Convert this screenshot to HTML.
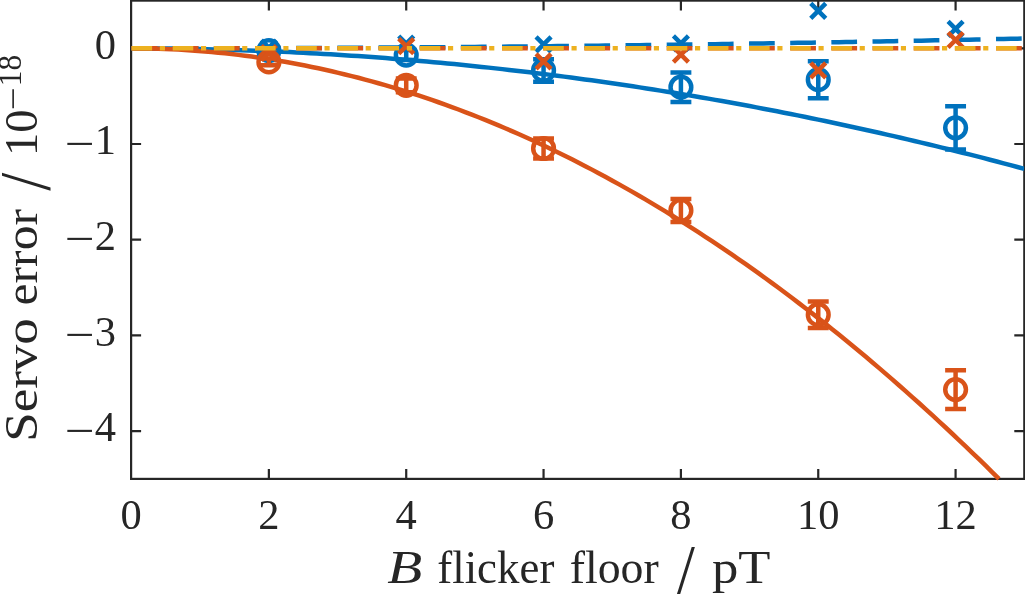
<!DOCTYPE html>
<html lang="en"><head><meta charset="utf-8"><title>Servo error vs B flicker floor</title>
<style>html,body{margin:0;padding:0;background:#fff;overflow:hidden}svg{display:block;font-family:"Liberation Serif",serif;fill:#262626}</style></head><body>
<svg width="1025" height="594" viewBox="0 0 1025 594">
<rect width="1025" height="594" fill="#fff"/>
<defs><clipPath id="c"><rect x="131.10" y="0.60" width="893.20" height="478.30"/></clipPath></defs>
<g stroke="#262626" stroke-width="2.2" fill="none" stroke-linecap="butt">
<rect x="131.10" y="0.60" width="893.20" height="478.30"/>
<path d="M268.87 478.90v-10.00 M268.87 0.60v10.00 M406.22 478.90v-10.00 M406.22 0.60v10.00 M543.56 478.90v-10.00 M543.56 0.60v10.00 M680.91 478.90v-10.00 M680.91 0.60v10.00 M818.25 478.90v-10.00 M818.25 0.60v10.00 M955.59 478.90v-10.00 M955.59 0.60v10.00 M131.10 48.35h10.00 M1024.30 48.35h-10.00 M131.10 144.02h10.00 M1024.30 144.02h-10.00 M131.10 239.69h10.00 M1024.30 239.69h-10.00 M131.10 335.36h10.00 M1024.30 335.36h-10.00 M131.10 431.03h10.00 M1024.30 431.03h-10.00"/>
</g>
<g clip-path="url(#c)">
<polyline points="131.53,48.35 138.40,48.36 145.26,48.38 152.13,48.41 159.00,48.46 165.87,48.53 172.73,48.61 179.60,48.70 186.47,48.81 193.33,48.93 200.20,49.06 207.07,49.21 213.94,49.38 220.80,49.55 227.67,49.75 234.54,49.95 241.41,50.17 248.27,50.41 255.14,50.66 262.01,50.92 268.87,51.20 275.74,51.49 282.61,51.80 289.48,52.12 296.34,52.46 303.21,52.80 310.08,53.17 316.94,53.55 323.81,53.94 330.68,54.34 337.55,54.76 344.41,55.20 351.28,55.65 358.15,56.11 365.01,56.59 371.88,57.08 378.75,57.59 385.62,58.11 392.48,58.64 399.35,59.19 406.22,59.75 413.09,60.33 419.95,60.92 426.82,61.53 433.69,62.15 440.55,62.78 447.42,63.43 454.29,64.09 461.16,64.77 468.02,65.46 474.89,66.17 481.76,66.89 488.62,67.62 495.49,68.37 502.36,69.13 509.23,69.91 516.09,70.70 522.96,71.51 529.83,72.33 536.69,73.16 543.56,74.01 550.43,74.87 557.30,75.75 564.16,76.64 571.03,77.54 577.90,78.46 584.77,79.40 591.63,80.34 598.50,81.31 605.37,82.28 612.23,83.27 619.10,84.28 625.97,85.30 632.84,86.33 639.70,87.38 646.57,88.44 653.44,89.52 660.30,90.61 667.17,91.71 674.04,92.83 680.91,93.97 687.77,95.11 694.64,96.27 701.51,97.45 708.37,98.64 715.24,99.85 722.11,101.06 728.98,102.30 735.84,103.54 742.71,104.81 749.58,106.08 756.45,107.37 763.31,108.68 770.18,110.00 777.05,111.33 783.91,112.67 790.78,114.04 797.65,115.41 804.52,116.80 811.38,118.21 818.25,119.62 825.12,121.06 831.98,122.50 838.85,123.96 845.72,125.44 852.59,126.93 859.45,128.43 866.32,129.95 873.19,131.48 880.05,133.03 886.92,134.59 893.79,136.17 900.66,137.76 907.52,139.36 914.39,140.98 921.26,142.61 928.13,144.26 934.99,145.92 941.86,147.59 948.73,149.28 955.59,150.98 962.46,152.70 969.33,154.43 976.20,156.18 983.06,157.94 989.93,159.72 996.80,161.50 1003.66,163.31 1010.53,165.13 1017.40,166.96 1024.27,168.80" fill="none" stroke="#0072BD" stroke-width="4.5"/>
<polyline points="131.53,48.35 138.40,48.35 145.26,48.35 152.13,48.34 159.00,48.34 165.87,48.34 172.73,48.33 179.60,48.32 186.47,48.31 193.33,48.30 200.20,48.29 207.07,48.28 213.94,48.27 220.80,48.25 227.67,48.24 234.54,48.22 241.41,48.20 248.27,48.18 255.14,48.16 262.01,48.14 268.87,48.12 275.74,48.09 282.61,48.07 289.48,48.04 296.34,48.01 303.21,47.99 310.08,47.96 316.94,47.92 323.81,47.89 330.68,47.86 337.55,47.82 344.41,47.79 351.28,47.75 358.15,47.71 365.01,47.68 371.88,47.64 378.75,47.59 385.62,47.55 392.48,47.51 399.35,47.46 406.22,47.42 413.09,47.37 419.95,47.32 426.82,47.27 433.69,47.22 440.55,47.17 447.42,47.12 454.29,47.06 461.16,47.01 468.02,46.95 474.89,46.89 481.76,46.83 488.62,46.77 495.49,46.71 502.36,46.65 509.23,46.58 516.09,46.52 522.96,46.45 529.83,46.39 536.69,46.32 543.56,46.25 550.43,46.18 557.30,46.11 564.16,46.03 571.03,45.96 577.90,45.88 584.77,45.81 591.63,45.73 598.50,45.65 605.37,45.57 612.23,45.49 619.10,45.41 625.97,45.32 632.84,45.24 639.70,45.15 646.57,45.07 653.44,44.98 660.30,44.89 667.17,44.80 674.04,44.71 680.91,44.62 687.77,44.52 694.64,44.43 701.51,44.33 708.37,44.23 715.24,44.13 722.11,44.03 728.98,43.93 735.84,43.83 742.71,43.73 749.58,43.62 756.45,43.52 763.31,43.41 770.18,43.30 777.05,43.19 783.91,43.08 790.78,42.97 797.65,42.86 804.52,42.75 811.38,42.63 818.25,42.51 825.12,42.40 831.98,42.28 838.85,42.16 845.72,42.04 852.59,41.92 859.45,41.79 866.32,41.67 873.19,41.54 880.05,41.42 886.92,41.29 893.79,41.16 900.66,41.03 907.52,40.90 914.39,40.77 921.26,40.63 928.13,40.50 934.99,40.36 941.86,40.22 948.73,40.09 955.59,39.95 962.46,39.81 969.33,39.66 976.20,39.52 983.06,39.38 989.93,39.23 996.80,39.08 1003.66,38.94 1010.53,38.79 1017.40,38.64 1024.27,38.49" fill="none" stroke="#0072BD" stroke-width="4.5" stroke-dasharray="25.730 15.438"/>
<polyline points="131.53,48.35 138.40,48.35 145.26,48.35 152.13,48.35 159.00,48.35 165.87,48.35 172.73,48.35 179.60,48.35 186.47,48.35 193.33,48.35 200.20,48.35 207.07,48.35 213.94,48.35 220.80,48.35 227.67,48.35 234.54,48.35 241.41,48.35 248.27,48.35 255.14,48.35 262.01,48.35 268.87,48.35 275.74,48.35 282.61,48.35 289.48,48.35 296.34,48.35 303.21,48.35 310.08,48.35 316.94,48.35 323.81,48.35 330.68,48.35 337.55,48.35 344.41,48.35 351.28,48.35 358.15,48.35 365.01,48.35 371.88,48.35 378.75,48.35 385.62,48.35 392.48,48.35 399.35,48.35 406.22,48.35 413.09,48.35 419.95,48.35 426.82,48.35 433.69,48.35 440.55,48.35 447.42,48.35 454.29,48.35 461.16,48.35 468.02,48.35 474.89,48.35 481.76,48.35 488.62,48.35 495.49,48.35 502.36,48.35 509.23,48.35 516.09,48.35 522.96,48.35 529.83,48.35 536.69,48.35 543.56,48.35 550.43,48.35 557.30,48.35 564.16,48.35 571.03,48.35 577.90,48.35 584.77,48.35 591.63,48.35 598.50,48.35 605.37,48.35 612.23,48.35 619.10,48.35 625.97,48.35 632.84,48.35 639.70,48.35 646.57,48.35 653.44,48.35 660.30,48.35 667.17,48.35 674.04,48.35 680.91,48.35 687.77,48.35 694.64,48.35 701.51,48.35 708.37,48.35 715.24,48.35 722.11,48.35 728.98,48.35 735.84,48.35 742.71,48.35 749.58,48.35 756.45,48.35 763.31,48.35 770.18,48.35 777.05,48.35 783.91,48.35 790.78,48.35 797.65,48.35 804.52,48.35 811.38,48.35 818.25,48.35 825.12,48.35 831.98,48.35 838.85,48.35 845.72,48.35 852.59,48.35 859.45,48.35 866.32,48.35 873.19,48.35 880.05,48.35 886.92,48.35 893.79,48.35 900.66,48.35 907.52,48.35 914.39,48.35 921.26,48.35 928.13,48.35 934.99,48.35 941.86,48.35 948.73,48.35 955.59,48.35 962.46,48.35 969.33,48.35 976.20,48.35 983.06,48.35 989.93,48.35 996.80,48.35 1003.66,48.35 1010.53,48.35 1017.40,48.35 1024.27,48.35" fill="none" stroke="#D95319" stroke-width="4.5" stroke-dasharray="25.730 15.438"/>
</g>
<polyline points="131.53,48.35 138.20,48.38 144.88,48.45 151.55,48.58 158.22,48.76 164.89,48.99 171.57,49.27 178.24,49.60 184.91,49.98 191.59,50.41 198.26,50.90 204.93,51.43 211.61,52.02 218.28,52.66 224.95,53.34 231.62,54.08 238.30,54.87 244.97,55.71 251.64,56.60 258.32,57.55 264.99,58.54 271.66,59.58 278.33,60.68 285.01,61.83 291.68,63.02 298.35,64.27 305.03,65.57 311.70,66.92 318.37,68.32 325.05,69.77 331.72,71.28 338.39,72.83 345.06,74.44 351.74,76.09 358.41,77.80 365.08,79.56 371.76,81.36 378.43,83.22 385.10,85.13 391.78,87.10 398.45,89.11 405.12,91.17 411.79,93.29 418.47,95.45 425.14,97.67 431.81,99.94 438.49,102.25 445.16,104.62 451.83,107.04 458.50,109.51 465.18,112.04 471.85,114.61 478.52,117.23 485.20,119.91 491.87,122.63 498.54,125.41 505.22,128.24 511.89,131.12 518.56,134.05 525.23,137.03 531.91,140.06 538.58,143.14 545.25,146.27 551.93,149.46 558.60,152.69 565.27,155.98 571.94,159.32 578.62,162.70 585.29,166.14 591.96,169.63 598.64,173.17 605.31,176.77 611.98,180.41 618.66,184.10 625.33,187.85 632.00,191.64 638.67,195.49 645.35,199.39 652.02,203.34 658.69,207.33 665.37,211.39 672.04,215.49 678.71,219.64 685.39,223.84 692.06,228.10 698.73,232.40 705.40,236.76 712.08,241.16 718.75,245.62 725.42,250.13 732.10,254.69 738.77,259.30 745.44,263.96 752.11,268.68 758.79,273.44 765.46,278.26 772.13,283.12 778.81,288.04 785.48,293.00 792.15,298.02 798.83,303.09 805.50,308.21 812.17,313.38 818.84,318.61 825.52,323.88 832.19,329.20 838.86,334.58 845.54,340.00 852.21,345.48 858.88,351.01 865.55,356.59 872.23,362.22 878.90,367.90 885.57,373.63 892.25,379.41 898.92,385.25 905.59,391.13 912.27,397.07 918.94,403.05 925.61,409.09 932.28,415.18 938.96,421.32 945.63,427.51 952.30,433.75 958.98,440.04 965.65,446.39 972.32,452.78 978.99,459.22 985.67,465.72 992.34,472.27 999.01,478.87" fill="none" stroke="#D95319" stroke-width="4.5"/>
<g stroke="#0072BD" stroke-width="4.5" fill="none">
<path d="M268.87 47.70V53.70 M258.42 47.70h20.90 M258.42 53.70h20.90"/>
<circle cx="268.87" cy="50.70" r="10.35"/>
</g>
<g stroke="#0072BD" stroke-width="4.5" fill="none">
<path d="M406.22 50.10V60.10 M395.77 50.10h20.90 M395.77 60.10h20.90"/>
<circle cx="406.22" cy="55.10" r="10.35"/>
</g>
<g stroke="#0072BD" stroke-width="4.5" fill="none">
<path d="M543.56 59.15V81.65 M533.11 59.15h20.90 M533.11 81.65h20.90"/>
<circle cx="543.56" cy="70.40" r="10.35"/>
</g>
<g stroke="#0072BD" stroke-width="4.5" fill="none">
<path d="M680.91 72.45V101.95 M670.46 72.45h20.90 M670.46 101.95h20.90"/>
<circle cx="680.91" cy="87.20" r="10.35"/>
</g>
<g stroke="#0072BD" stroke-width="4.5" fill="none">
<path d="M818.25 61.25V98.15 M807.80 61.25h20.90 M807.80 98.15h20.90"/>
<circle cx="818.25" cy="79.70" r="10.35"/>
</g>
<g stroke="#0072BD" stroke-width="4.5" fill="none">
<path d="M955.59 106.15V149.45 M945.14 106.15h20.90 M945.14 149.45h20.90"/>
<circle cx="955.59" cy="127.80" r="10.35"/>
</g>
<path d="M261.37 40.00l15.00 15.00 M261.37 55.00l15.00 -15.00" stroke="#0072BD" stroke-width="4.5" fill="none"/>
<path d="M398.72 36.00l15.00 15.00 M398.72 51.00l15.00 -15.00" stroke="#0072BD" stroke-width="4.5" fill="none"/>
<path d="M536.06 36.90l15.00 15.00 M536.06 51.90l15.00 -15.00" stroke="#0072BD" stroke-width="4.5" fill="none"/>
<path d="M673.41 35.90l15.00 15.00 M673.41 50.90l15.00 -15.00" stroke="#0072BD" stroke-width="4.5" fill="none"/>
<path d="M810.75 3.36l15.00 15.00 M810.75 18.36l15.00 -15.00" stroke="#0072BD" stroke-width="4.5" fill="none"/>
<path d="M948.09 21.30l15.00 15.00 M948.09 36.30l15.00 -15.00" stroke="#0072BD" stroke-width="4.5" fill="none"/>
<g stroke="#D95319" stroke-width="4.5" fill="none">
<path d="M268.87 58.60V65.20 M258.42 58.60h20.90 M258.42 65.20h20.90"/>
<circle cx="268.87" cy="61.90" r="10.35"/>
</g>
<g stroke="#D95319" stroke-width="4.5" fill="none">
<path d="M406.22 78.55V92.15 M395.77 78.55h20.90 M395.77 92.15h20.90"/>
<circle cx="406.22" cy="85.35" r="10.35"/>
</g>
<g stroke="#D95319" stroke-width="4.5" fill="none">
<path d="M543.56 138.40V158.60 M533.11 138.40h20.90 M533.11 158.60h20.90"/>
<circle cx="543.56" cy="148.50" r="10.35"/>
</g>
<g stroke="#D95319" stroke-width="4.5" fill="none">
<path d="M680.91 198.95V221.95 M670.46 198.95h20.90 M670.46 221.95h20.90"/>
<circle cx="680.91" cy="210.45" r="10.35"/>
</g>
<g stroke="#D95319" stroke-width="4.5" fill="none">
<path d="M818.25 301.40V328.00 M807.80 301.40h20.90 M807.80 328.00h20.90"/>
<circle cx="818.25" cy="314.70" r="10.35"/>
</g>
<g stroke="#D95319" stroke-width="4.5" fill="none">
<path d="M955.59 370.15V409.05 M945.14 370.15h20.90 M945.14 409.05h20.90"/>
<circle cx="955.59" cy="389.60" r="10.35"/>
</g>
<path d="M261.37 45.50l15.00 15.00 M261.37 60.50l15.00 -15.00" stroke="#D95319" stroke-width="4.5" fill="none"/>
<path d="M398.72 38.70l15.00 15.00 M398.72 53.70l15.00 -15.00" stroke="#D95319" stroke-width="4.5" fill="none"/>
<path d="M536.06 53.80l15.00 15.00 M536.06 68.80l15.00 -15.00" stroke="#D95319" stroke-width="4.5" fill="none"/>
<path d="M673.41 47.20l15.00 15.00 M673.41 62.20l15.00 -15.00" stroke="#D95319" stroke-width="4.5" fill="none"/>
<path d="M810.75 62.90l15.00 15.00 M810.75 77.90l15.00 -15.00" stroke="#D95319" stroke-width="4.5" fill="none"/>
<path d="M948.09 32.50l15.00 15.00 M948.09 47.50l15.00 -15.00" stroke="#D95319" stroke-width="4.5" fill="none"/>
<g clip-path="url(#c)">
<polyline points="131.53,48.35 138.40,48.35 145.26,48.35 152.13,48.35 159.00,48.35 165.87,48.35 172.73,48.35 179.60,48.35 186.47,48.35 193.33,48.35 200.20,48.35 207.07,48.35 213.94,48.35 220.80,48.35 227.67,48.35 234.54,48.35 241.41,48.35 248.27,48.35 255.14,48.35 262.01,48.35 268.87,48.35 275.74,48.35 282.61,48.35 289.48,48.35 296.34,48.35 303.21,48.35 310.08,48.35 316.94,48.35 323.81,48.35 330.68,48.35 337.55,48.35 344.41,48.35 351.28,48.35 358.15,48.35 365.01,48.35 371.88,48.35 378.75,48.35 385.62,48.35 392.48,48.35 399.35,48.35 406.22,48.35 413.09,48.35 419.95,48.35 426.82,48.35 433.69,48.35 440.55,48.35 447.42,48.35 454.29,48.35 461.16,48.35 468.02,48.35 474.89,48.35 481.76,48.35 488.62,48.35 495.49,48.35 502.36,48.35 509.23,48.35 516.09,48.35 522.96,48.35 529.83,48.35 536.69,48.35 543.56,48.35 550.43,48.35 557.30,48.35 564.16,48.35 571.03,48.35 577.90,48.35 584.77,48.35 591.63,48.35 598.50,48.35 605.37,48.35 612.23,48.35 619.10,48.35 625.97,48.35 632.84,48.35 639.70,48.35 646.57,48.35 653.44,48.35 660.30,48.35 667.17,48.35 674.04,48.35 680.91,48.35 687.77,48.35 694.64,48.35 701.51,48.35 708.37,48.35 715.24,48.35 722.11,48.35 728.98,48.35 735.84,48.35 742.71,48.35 749.58,48.35 756.45,48.35 763.31,48.35 770.18,48.35 777.05,48.35 783.91,48.35 790.78,48.35 797.65,48.35 804.52,48.35 811.38,48.35 818.25,48.35 825.12,48.35 831.98,48.35 838.85,48.35 845.72,48.35 852.59,48.35 859.45,48.35 866.32,48.35 873.19,48.35 880.05,48.35 886.92,48.35 893.79,48.35 900.66,48.35 907.52,48.35 914.39,48.35 921.26,48.35 928.13,48.35 934.99,48.35 941.86,48.35 948.73,48.35 955.59,48.35 962.46,48.35 969.33,48.35 976.20,48.35 983.06,48.35 989.93,48.35 996.80,48.35 1003.66,48.35 1010.53,48.35 1017.40,48.35 1024.27,48.35" fill="none" stroke="#EDB120" stroke-width="4.5" stroke-dasharray="20.584 7.719 5.146 7.719"/>
</g>
<text x="131.13" y="529.4" font-size="42.5" text-anchor="middle">0</text>
<text x="268.87" y="529.4" font-size="42.5" text-anchor="middle">2</text>
<text x="406.22" y="529.4" font-size="42.5" text-anchor="middle">4</text>
<text x="543.56" y="529.4" font-size="42.5" text-anchor="middle">6</text>
<text x="680.91" y="529.4" font-size="42.5" text-anchor="middle">8</text>
<text x="818.25" y="529.4" font-size="42.5" text-anchor="middle">10</text>
<text x="955.59" y="529.4" font-size="42.5" text-anchor="middle">12</text>
<text x="116" y="58.55" font-size="42.5" text-anchor="end">0</text>
<text font-size="42.5"><tspan x="64.71" y="157.82" textLength="29.84" lengthAdjust="spacingAndGlyphs">−</tspan><tspan x="116" y="154.22" text-anchor="end">1</tspan></text>
<text font-size="42.5"><tspan x="64.71" y="253.49" textLength="29.84" lengthAdjust="spacingAndGlyphs">−</tspan><tspan x="116" y="249.89" text-anchor="end">2</tspan></text>
<text font-size="42.5"><tspan x="64.71" y="349.16" textLength="29.84" lengthAdjust="spacingAndGlyphs">−</tspan><tspan x="116" y="345.56" text-anchor="end">3</tspan></text>
<text font-size="42.5"><tspan x="64.71" y="444.83" textLength="29.84" lengthAdjust="spacingAndGlyphs">−</tspan><tspan x="116" y="441.23" text-anchor="end">4</tspan></text>
<text x="387.30" y="582.50" font-size="47" font-style="italic" textLength="34.98" lengthAdjust="spacingAndGlyphs">B</text>
<text x="437.25" y="582.50" font-size="47" textLength="117.07" lengthAdjust="spacingAndGlyphs">flicker</text>
<text x="569.73" y="582.50" font-size="47" textLength="89.04" lengthAdjust="spacingAndGlyphs">floor</text>
<text transform="translate(676.60,594.20) scale(1.4077,1.5129)" font-size="47">/</text>
<text x="711.98" y="582.50" font-size="47" textLength="58.49" lengthAdjust="spacingAndGlyphs">pT</text>
<g transform="translate(37.4,0) rotate(-90)">
<text x="-441.78" y="0.00" font-size="47" textLength="123.44" lengthAdjust="spacingAndGlyphs">Servo</text>
<text x="-305.51" y="0.00" font-size="47" textLength="96.56" lengthAdjust="spacingAndGlyphs">error</text>
<text transform="translate(-190.80,11.70) scale(1.3769,1.5129)" font-size="47">/</text>
<text x="-155.97" y="0.00" font-size="47" textLength="46.66" lengthAdjust="spacingAndGlyphs">10</text>
<text x="-110.17" y="-13.70" font-size="33" textLength="22.97" lengthAdjust="spacingAndGlyphs">−</text>
<text x="-86.14" y="-16.20" font-size="33" textLength="31.29" lengthAdjust="spacingAndGlyphs">18</text>
</g>
</svg></body></html>
